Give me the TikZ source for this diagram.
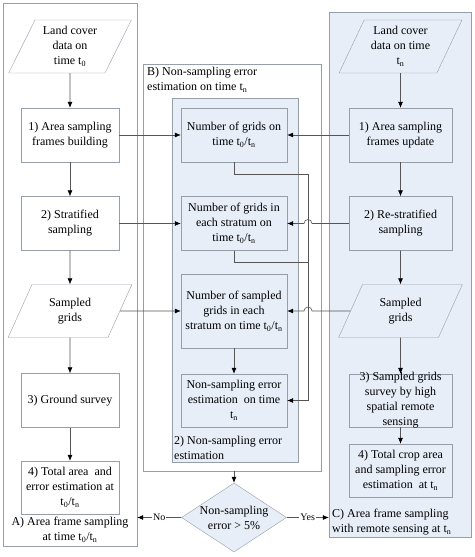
\documentclass[tikz,border=0pt]{standalone}
\usepackage{fontspec}
\setmainfont{Liberation Serif}[Ligatures=TeX]
\newfontfamily\timesfont{Liberation Serif}
\usetikzlibrary{shapes.geometric,calc,arrows.meta}

\definecolor{bluefill}{RGB}{232,238,248}
\definecolor{edgegray}{RGB}{150,158,170}
\definecolor{linegray}{RGB}{85,85,85}
\newcommand{\tz}{t\textsubscript{0}}
\newcommand{\tn}{t\textsubscript{n}}

\begin{document}
\begin{tikzpicture}[x=1pt,y=-1pt,
	every node/.style={font=\timesfont\fontsize{12}{15}\selectfont,align=center},
	frame/.style={draw=edgegray,inner sep=0pt},
	procbox/.style={draw=edgegray,minimum width=98pt,minimum height=54pt,inner sep=2pt},
	databox/.style={trapezium,trapezium left angle=63,trapezium right angle=117,trapezium stretches=true,draw=edgegray,minimum width=124pt,minimum height=53pt,inner sep=0pt},
	countbox/.style={draw=edgegray,fill=bluefill,minimum width=106pt,minimum height=54pt,inner sep=2pt},
	flow/.style={draw=linegray,line width=.6pt,-{Latex[black,length=6pt,width=5pt]}},
	tag/.style={font=\timesfont\fontsize{10}{12}\selectfont,fill=white,inner sep=1pt}]
	\useasboundingbox (0,0) rectangle (474,557);
	
	% frames
	\node[frame,minimum width=134pt,minimum height=543pt] (fa) at (70,274.5) {};
	\node[frame,fill=white,minimum width=178pt,minimum height=407pt] (fb) at (232,267.5) {};
	\node[frame,fill=bluefill,minimum width=126pt,minimum height=364pt] (fb2) at (235,280) {};
	\node[frame,fill=bluefill,minimum width=142pt,minimum height=525pt] (fc) at (400,274.5) {};
	
	% A) left column
	\node[databox] (land0) at (70,46.5) {Land cover\\data on\\time \tz};
	\node[procbox] (frm0) at (70,135) {1) Area sampling\\frames building};
	\node[procbox] (str0) at (70,223.5) {2) Stratified\\sampling};
	\node[databox] (sg0) at (70,311) {Sampled\\grids};
	\node[procbox] (gs) at (70,400.5) {3) Ground survey};
	\node[procbox,minimum height=53pt] (tot0) at (70,487.5) {4) Total area~ and\\error estimation at\\\tz/\tn};
	\node[inner sep=0pt] (labA) at (70,529.5) {A) Area frame sampling\\at time \tz/\tn};
	
	% B) middle column
	\node[anchor=north west,align=left,inner sep=2pt] (labB) at (145,65) {B) Non-sampling error\\estimation on time \tn};
	\node[countbox] (ng) at (234,135) {Number of grids on\\time \tz/\tn};
	\node[countbox] (ns) at (234,223.5) {Number of grids in\\each stratum on\\time \tz/\tn};
	\node[countbox,minimum height=74pt] (nsg) at (234,311) {Number of sampled\\grids in each\\stratum on time \tz/\tn};
	\node[countbox,minimum height=53pt] (nse) at (234,400.5) {Non-sampling error\\estimation~ on time\\\tn};
	\node[anchor=south west,align=left,inner sep=2pt] (lab2) at (172,462) {2) Non-sampling error\\estimation};
	
	% C) right column
	\node[databox,fill=bluefill] (landn) at (400.5,46.5) {Land cover\\data on time\\\tn};
	\node[procbox,fill=bluefill,minimum width=103pt] (frmn) at (400.5,135) {1) Area sampling\\frames update};
	\node[procbox,fill=bluefill,minimum width=103pt] (strn) at (400.5,223.5) {2) Re-stratified\\sampling};
	\node[databox,fill=bluefill] (sgn) at (400.5,311) {Sampled\\grids};
	\node[procbox,fill=bluefill,minimum width=103pt,minimum height=53pt,inner ysep=-2pt] (rs) at (400.5,400.5) {3) Sampled grids\\survey by high\\spatial remote\\sensing};
	\node[procbox,fill=bluefill,minimum width=103pt,minimum height=53pt] (totn) at (400.5,470.5) {4) Total crop area\\and sampling error\\estimation~ at \tn};
	\node[anchor=south west,align=left,inner sep=2pt] (labC) at (330,537) {C) Area frame sampling\\with remote sensing at \tn};
	
	% decision
	\node[diamond,draw=edgegray,fill=bluefill,minimum width=105pt,minimum height=69pt,aspect=1.5,inner sep=-2pt] (dec) at (234,517.5) {Non-sampling\\error > 5\%};
	
	% arrows
	\foreach \a/\b in {land0/frm0,frm0/str0,str0/sg0,sg0/gs,gs/tot0,landn/frmn,frmn/strn,strn/sgn,sgn/rs,rs/totn,nsg/nse}{
		\draw[flow] (\a) -- (\b);
	}
	\foreach \a/\b in {frm0/ng,str0/ns,sg0/nsg,frmn/ng}{
		\draw[flow] (\a) -- (\b);
	}
	\coordinate (bus) at (308,174);
	\draw[flow] (ng) |- (bus) |- (nse);
	\draw[draw=linegray,line width=.6pt] (ns.south) -- ++(0,12) -| (bus);
	\foreach \a/\b in {strn/ns,sgn/nsg}{
		\draw[flow] (\a) -- ($(bus |- \a)+(4,0)$) arc[start angle=0,end angle=180,radius=4pt] -- (\b);
	}
	\draw[flow] (dec |- fb.south) -- (dec);
	\draw[flow] (dec) -- node[tag]{No} (dec -| fa.east);
	\draw[flow] (dec) -- node[tag]{Yes} (dec -| fc.west);
\end{tikzpicture}
\end{document}
